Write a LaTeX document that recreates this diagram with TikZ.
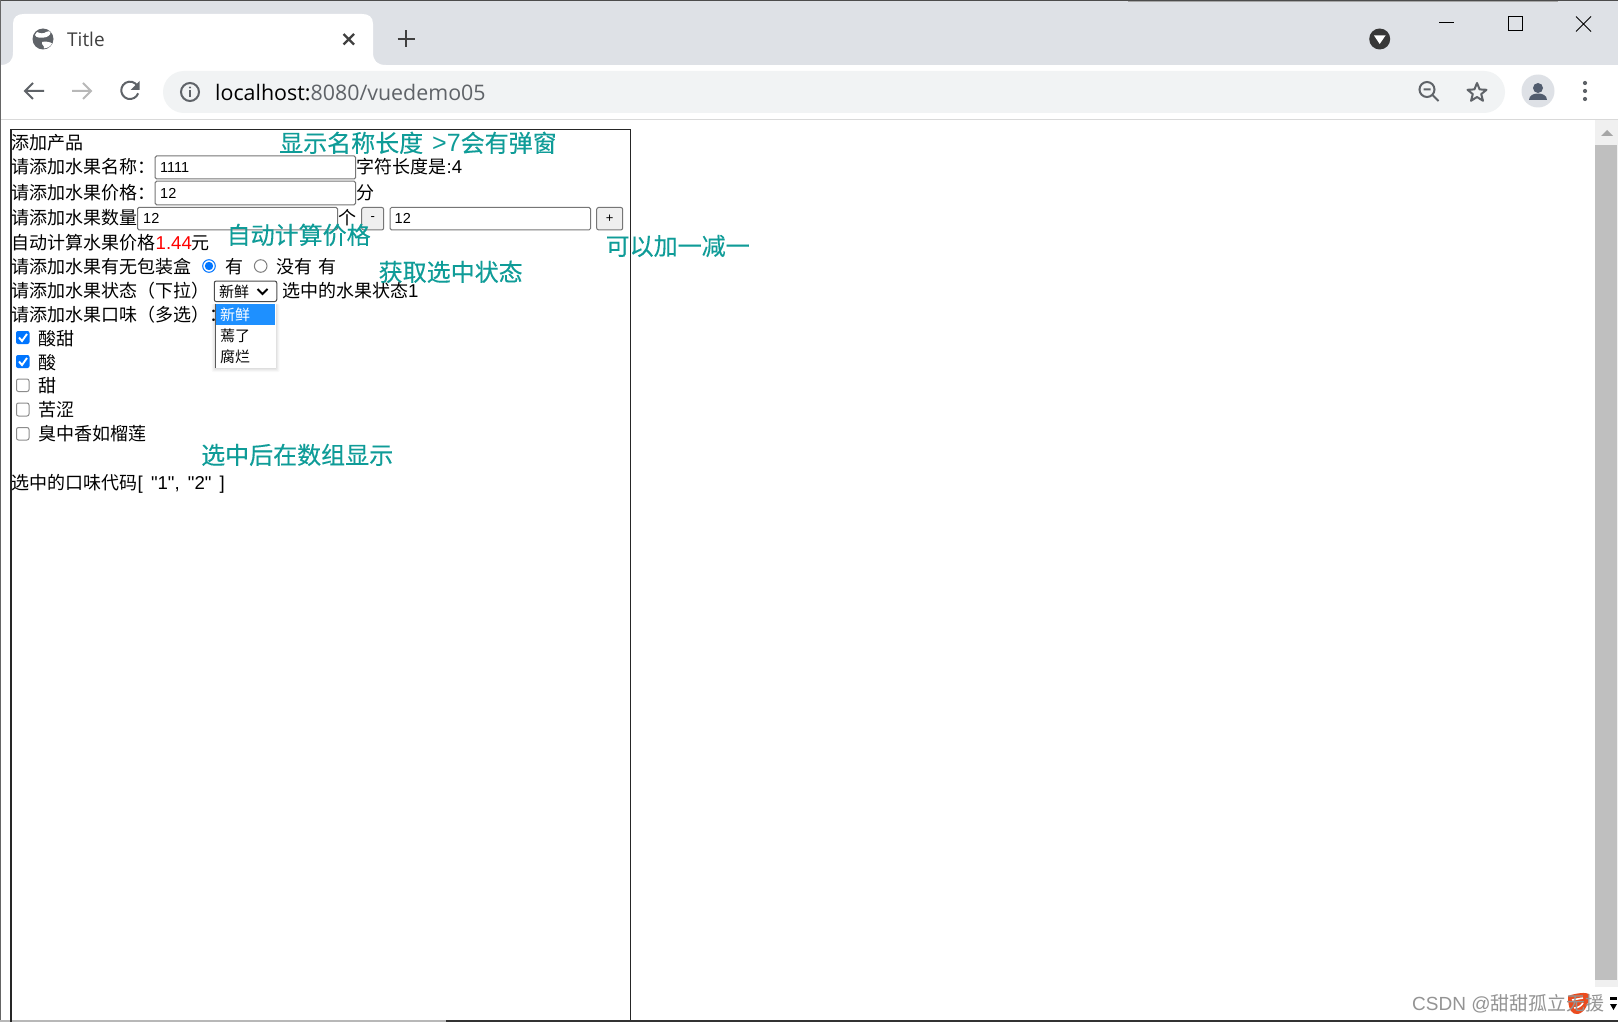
\documentclass[tikz,border=0pt]{standalone}
\usepackage{fontspec}
\setmainfont{Noto Sans CJK SC}
\newfontfamily\boldish[FakeBold=0.25]{Noto Sans CJK SC}
\newfontfamily\lat{Liberation Sans}
\newfontfamily\ui{Open Sans}
\definecolor{band}{HTML}{DEE1E6}
\definecolor{bar}{HTML}{F1F3F4}
\definecolor{icon}{HTML}{5F6368}
\definecolor{teal1}{HTML}{0F9C98}
\definecolor{bluechk}{HTML}{0075FF}
\definecolor{inputb}{HTML}{767676}
\definecolor{btnb}{HTML}{EFEFEF}
\definecolor{person}{HTML}{515C6E}
\definecolor{optblue}{HTML}{1E90FF}
\definecolor{stamp}{HTML}{EB4B1E}
\tikzset{
  x=1pt,y=-1pt,
  pg/.style={anchor=base west,inner sep=0,font=\fontsize{18}{20}\selectfont,text=black},
  note/.style={anchor=base west,inner sep=0,font=\boldish\fontsize{24}{26}\selectfont,text=teal1},
  inp/.style={draw=inputb,line width=1pt,rounded corners=1.5pt,fill=white},
  btn/.style={draw=inputb,line width=1pt,rounded corners=2pt,fill=btnb},
  val/.style={anchor=base west,inner sep=0,font=\lat\fontsize{14.5}{16}\selectfont},
  opt/.style={anchor=base west,inner sep=0,font=\fontsize{15}{17}\selectfont},
  ico/.style={draw=icon,line width=2pt},
  chk/.style={draw=black!45,line width=1pt,rounded corners=2pt,fill=white},
  chkon/.style={fill=bluechk,rounded corners=2pt},
}
\newcommand{\ltx}[1]{{\lat\fontsize{18.6}{20}\selectfont #1}}
\begin{document}
\begin{tikzpicture}
\useasboundingbox (0,0) rectangle (1618,1022);
\fill[white] (0,0) rectangle (1618,1022);
% chrome
\fill[band] (0,0) rectangle (1618,65);
\fill[white] (0,65) rectangle (1618,119);
\draw[black!70,line width=1pt] (0,.5) -- (1618,.5);
\fill[black!35] (1128,1) rectangle (1558,2.5);
\fill[white] (0,65) .. controls (9,65) and (13,61) .. (13,52) -- (13,24) .. controls (13,17) and (17,14) .. (24,14) -- (362,14) .. controls (369,14) and (373,17) .. (373,24) -- (373,52) .. controls (373,61) and (377,65) .. (386,65) -- cycle;
\fill[bar,rounded corners=21pt] (163,71) rectangle (1505,113);
\draw[black!15,line width=1pt] (0,119.5) -- (1618,119.5);
\draw[black!60,line width=1pt] (.5,0) -- (.5,1022);
% globe
\fill[icon] (43,39) circle (10.5);
\fill[white] (37,32) .. controls (40,33.5) and (44,34) .. (46,32) .. controls (48,31) and (50,31) .. (50.5,32) .. controls (51,35) and (47,37.5) .. (44,37.5) .. controls (41,38) and (36,38) .. (35,35) -- cycle;
\fill[white] (42,42) .. controls (45,41) and (51,42) .. (52,43.5) .. controls (50,47) and (47,48.5) .. (44,48.5) .. controls (45,45.5) and (41,45) .. (42,42) -- cycle;
\node[anchor=base west,inner sep=0,font=\ui\fontsize{19}{21}\selectfont,text=black!75] (title) at (67,47) {Title};
\draw[black!75,line width=2.2pt] (343.5,34) -- (354,44.5) (354,34) -- (343.5,44.5);
\draw[black!75,line width=2.8pt] (406,30.5) -- (406,47.5) (397.5,39) -- (414.5,39);
% nav
\draw[ico] (44,91) -- (25,91) (33,83) -- (25,91) -- (33,99);
\draw[ico,draw=black!28] (72,91) -- (91,91) (83,83) -- (91,91) -- (83,99);
\draw[ico] (137.5,86) arc (-30:-340:8.7);
\fill[icon] (139.5,81) -- (139.5,90) -- (130.5,90) -- cycle;
\draw[ico] (190,92) circle (9);
\fill[icon] (190,87.5) circle (1.2);
\fill[icon] (189,90) rectangle (191,97);
\node[anchor=base west,inner sep=0,font=\ui\fontsize{21.4}{24}\selectfont,text=black] (host) at (215,100.5) {localhost:\textcolor{icon}{8080/vuedemo05}};
% window right
\fill[black!78] (1379.7,39) circle (10.5);
\fill[white] (1374,35.5) -- (1385.5,35.5) -- (1379.7,44) -- cycle;
\draw[black,line width=1pt] (1439,22.5) -- (1454,22.5);
\draw[black,line width=1pt] (1508,17) rectangle (1522,31);
\draw[black,line width=1pt] (1576,16.5) -- (1591,31.5) (1591,16.5) -- (1576,31.5);
\draw[ico] (1427,89.5) circle (7.5);
\draw[ico] (1423.5,89.5) -- (1430.5,89.5) (1432.5,95) -- (1438.5,101);
\draw[icon,line width=2pt,line join=round] (1477,83) -- (1479.6,89.4) -- (1486.5,89.8) -- (1481.2,94.1) -- (1483,100.8) -- (1477,97) -- (1471,100.8) -- (1472.8,94.1) -- (1467.5,89.8) -- (1474.4,89.4) -- cycle;
\fill[band] (1538,91) circle (16.5);
\fill[person] (1538,88) circle (5);
\fill[person] (1529,100) .. controls (1529,95) and (1534,93.5) .. (1538,93.5) .. controls (1542,93.5) and (1547,95) .. (1547,100) -- cycle;
\fill[icon] (1585,83) circle (2.1) (1585,91) circle (2.1) (1585,99) circle (2.1);
% scrollbar
\fill[black!6] (1595,120) rectangle (1618,987);
\fill[black!25] (1595,145) rectangle (1617,980);
\fill[black!35] (1601,136) -- (1613,136) -- (1607,130) -- cycle;
% outer box
\draw[black!85,line width=1.2pt] (11,1022) -- (11,129.6) -- (630.5,129.6) -- (630.5,1022);
\fill[black!28] (0,1020) rectangle (446,1022);
\fill[black!80] (446,1020) rectangle (1618,1022);
\draw[black!85,line width=1.2pt] (11,1020) -- (11,1022);
% page rows
\node[pg] (r1) at (11.5,149.8) {添加产品};
\node[pg] (r2) at (11.5,173.8) {请添加水果名称：};
\node[inp,inner sep=0,minimum width=200.5pt,minimum height=23pt] (i1) at (255.3,167.5) {};
\node[val] (v1) at (160,172.8) {1111};
\node[pg] (r2b) at (356.5,173.8) {字符长度是\ltx{:4}};
\node[pg] (r3) at (11.5,199.8) {请添加水果价格：};
\node[inp,inner sep=0,minimum width=200.5pt,minimum height=23.5pt] (i2) at (255.3,193) {};
\node[val] (v2) at (160,198.3) {12};
\node[pg] (r3b) at (356.5,199.8) {分};
\node[pg] (r4) at (11.5,224.8) {请添加水果数量};
\node[inp,inner sep=0,minimum width=200pt,minimum height=22.5pt] (i3) at (237.5,218.7) {};
\node[val] (v3) at (143,223.8) {12};
\node[pg] (r4b) at (338.5,224.8) {个};
\node[btn,inner sep=0,minimum width=22pt,minimum height=22.5pt] (b1) at (372.7,218.7) {};
\node[anchor=center,inner sep=0,font=\lat\fontsize{13}{15}\selectfont] (b1t) at (372.7,219) {-};
\node[inp,inner sep=0,minimum width=200.5pt,minimum height=22.5pt] (i4) at (490.3,218.7) {};
\node[val] (v4) at (394.5,223.8) {12};
\node[btn,inner sep=0,minimum width=26pt,minimum height=22.5pt] (b2) at (609.7,218.7) {};
\node[anchor=center,inner sep=0,font=\lat\fontsize{13}{15}\selectfont] (b2t) at (609.7,218.7) {+};
\node[pg] (r5) at (11.5,249.8) {自动计算水果价格\textcolor{red}{\ltx{1.44}}元};
\node[pg] (r6) at (11.5,273.8) {请添加水果有无包装盒};
\draw[bluechk,line width=1pt,fill=white] (209,266) circle (6.3);
\fill[bluechk] (209,266) circle (4.2);
\draw[black!50,line width=1pt,fill=white] (260.7,266) circle (6.3);
\node[pg] (r6a) at (225,273.8) {有};
\node[pg] (r6b) at (276.5,273.8) {没有};
\node[pg] (r6c) at (318,273.8) {有};
\node[pg] (r7) at (11.5,297.8) {请添加水果状态（下拉）};
\node[btn,fill=white,draw=black!70,inner sep=0,minimum width=62.5pt,minimum height=20.5pt] (sel) at (245.5,291.3) {};
\node[opt] (selt) at (219,297) {新鲜};
\draw[black,line width=2pt] (257.5,289) -- (262.5,294) -- (267.5,289);
\node[pg] (r7b) at (282,297.8) {选中的水果状态\ltx{1}};
\node[pg] (r8) at (11.5,321.8) {请添加水果口味（多选）：};
% popup
\foreach \i/\o in {4/.025,3/.03,2/.035,1/.04}{\fill[black,opacity=\o,rounded corners=1pt] (215.5-\i,304) rectangle (275.5+\i,368+\i);}
\fill[white] (215.5,303.5) rectangle (275.5,368);
\draw[black!65,line width=.8pt] (215.7,303.5) -- (215.7,368);
\fill[optblue] (216,304) rectangle (275,325);
\node[opt,text=white] (o1) at (220,320.5) {新鲜};
\node[opt] (o2) at (220,341.5) {蔫了};
\node[opt] (o3) at (220,362.5) {腐烂};
% checkboxes
\fill[chkon] (16,331) rectangle (29.5,344);
\draw[white,line width=1.9pt] (19,337.5) -- (22,341) -- (27,334);
\fill[chkon] (16,355) rectangle (29.5,368);
\draw[white,line width=1.9pt] (19,361.5) -- (22,365) -- (27,358);
\draw[chk] (16.5,379) rectangle (29,391.5);
\draw[chk] (16.5,403) rectangle (29,416);
\draw[chk] (16.5,427.5) rectangle (29,440);
\node[pg] (c1) at (38.5,345.8) {酸甜};
\node[pg] (c2) at (38.5,369.8) {酸};
\node[pg] (c3) at (38.5,392.8) {甜};
\node[pg] (c4) at (38.5,416.8) {苦涩};
\node[pg] (c5) at (38.5,440.8) {臭中香如榴莲};
\node[pg] (r9) at (11.5,489.8) {选中的口味代码\ltx{[\hspace{3pt} "1",\hspace{3pt} "2"\hspace{3pt} ]}};
% annotations
\node[note] (n1) at (279,152) {显示名称长度\hspace{9pt}{\lat\fontsize{25}{26}\selectfont >7}会有弹窗};
\node[note] (n2) at (226.5,244) {自动计算价格};
\node[note] (n3) at (378.5,281) {获取选中状态};
\node[note] (n4) at (605.5,255) {可以加一减一};
\node[note] (n5) at (201,464) {选中后在数组显示};
% watermark
\fill[stamp] (1568,996) .. controls (1576,993) and (1586,992) .. (1589,994) .. controls (1589,1002) and (1586,1012) .. (1578,1014) .. controls (1572,1015) and (1568,1010) .. (1568,996) -- cycle;
\draw[white,line width=1.5pt] (1572,1000) -- (1583,998) (1574,1008) .. controls (1578,1008) and (1581,1006) .. (1583,1003);
\node[anchor=base west,inner sep=0,font=\fontsize{19}{21}\selectfont,text=black!42] (wm) at (1412,1010) {{\lat CSDN @}甜甜孤立无援};
\fill[black] (1610,997) rectangle (1617,1000);
\fill[black] (1610,1004) -- (1617,1004) -- (1613.5,1010) -- cycle;
\end{tikzpicture}
\end{document}
